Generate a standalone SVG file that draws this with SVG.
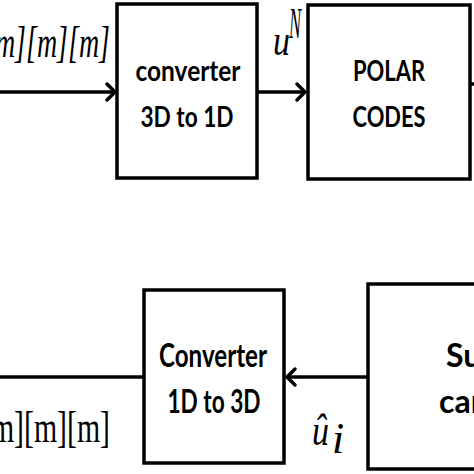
<svg xmlns="http://www.w3.org/2000/svg" width="474" height="474" viewBox="0 0 474 474">
<style>
.box{fill:#fff;stroke:#000;stroke-width:3.5}
.ln{fill:none;stroke:#000;stroke-width:3.5}
.hd{fill:none;stroke:#000;stroke-width:3.5;stroke-linecap:round;stroke-linejoin:round}
.t{font-family:Lato,"Open Sans",sans-serif;font-weight:bold;font-size:29px;fill:#000}
.c{text-anchor:middle}
.b{font-size:32px}
.m{font-family:"Liberation Serif","DejaVu Serif",serif;font-size:44px;fill:#000}
</style>
<rect width="474" height="474" fill="#fff"/>
<g id="connectors">
<line class="ln" x1="-5" y1="92" x2="115" y2="92"/>
<polyline class="hd" points="107,84 115,92 107,100"/>
<line class="ln" x1="257" y1="92" x2="305" y2="92"/>
<polyline class="hd" points="297,84 305,92 297,100"/>
<line class="ln" x1="470" y1="84" x2="480" y2="84"/>
<line class="ln" x1="368" y1="377" x2="287" y2="377"/>
<polyline class="hd" points="295,369 287,377 295,385"/>
<line class="ln" x1="144" y1="377" x2="-5" y2="377"/>
</g>
<g id="label-in">
<text class="m" x="-16" y="57" font-style="italic" textLength="126" lengthAdjust="spacingAndGlyphs">[m][m][m]</text>
</g>
<g id="label-uN">
<text class="m" x="273" y="55" font-style="italic" font-size="36" textLength="17" lengthAdjust="spacingAndGlyphs">u</text>
<text class="m" x="289" y="38" font-style="italic" font-size="21" textLength="12" lengthAdjust="spacingAndGlyphs">N</text>
</g>
<g id="conv3d1d">
<rect class="box" x="117" y="4" width="140" height="174"/>
<text class="t c" x="188" y="81" textLength="105" lengthAdjust="spacingAndGlyphs">converter</text>
<text class="t c" x="187" y="127" textLength="93" lengthAdjust="spacingAndGlyphs">3D to 1D</text>
</g>
<g id="polar">
<rect class="box" x="308" y="5" width="162" height="174"/>
<text class="t c" x="389" y="81" textLength="72" lengthAdjust="spacingAndGlyphs">POLAR</text>
<text class="t c" x="389" y="127" textLength="73" lengthAdjust="spacingAndGlyphs">CODES</text>
</g>
<g id="conv1d3d">
<rect class="box" x="144" y="290" width="140" height="173"/>
<text class="t b c" x="213" y="367" textLength="108" lengthAdjust="spacingAndGlyphs">Converter</text>
<text class="t b c" x="214" y="413" textLength="93" lengthAdjust="spacingAndGlyphs">1D to 3D</text>
</g>
<g id="sc">
<rect class="box" x="368" y="284" width="120" height="185"/>
<text class="t b" x="446" y="367">Su</text>
<text class="t b" x="439" y="413">car</text>
</g>
<g id="label-out">
<text class="m" x="-19" y="442" textLength="129" lengthAdjust="spacingAndGlyphs">[m][m][m]</text>
</g>
<g id="label-ui">
<text class="m" x="312" y="445" font-style="italic" font-size="34" textLength="17" lengthAdjust="spacingAndGlyphs">û</text>
<text class="m" x="332" y="453" font-style="italic" font-size="21">i</text>
</g>
</svg>
